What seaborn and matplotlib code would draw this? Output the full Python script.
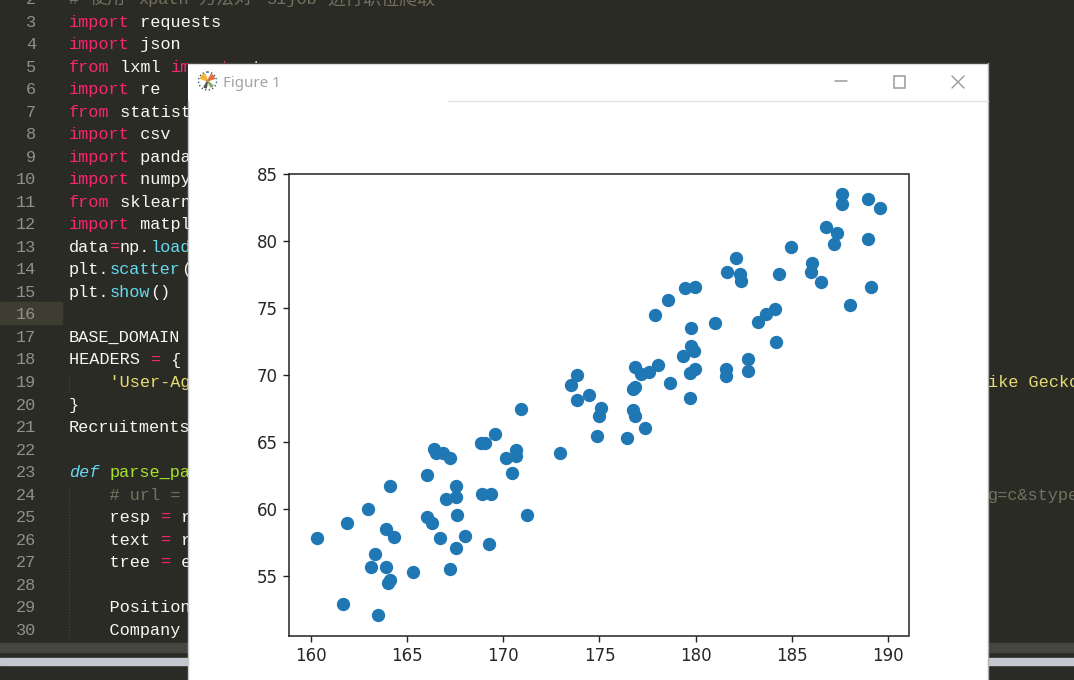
import matplotlib
matplotlib.use('Agg')
import matplotlib.pyplot as plt
from matplotlib.patches import Rectangle, Circle, Wedge
import pandas as pd
import seaborn as sns

# scatter values
heights = [160.33, 161.89, 161.68, 163.5, 162.98, 163.31, 163.1, 163.9, 163.9, 164.3,
           164.1, 164.1, 164.02, 165.32, 166.03, 166.03, 166.3, 166.7, 166.41, 166.5,
           166.88, 167.23, 167.02, 167.54, 167.54, 167.6, 167.23, 167.54, 167.99, 168.84,
           169.05, 169.57, 168.89, 169.36, 169.24, 170.14, 170.66, 170.66, 170.45, 170.92,
           171.23, 172.93, 173.52, 173.83, 173.83, 174.44, 174.95, 174.89, 175.1, 176.45,
           177.35, 176.76, 176.83, 176.76, 176.85, 176.83, 177.15, 177.56, 178.06, 178.65,
           177.87, 178.58, 179.43, 179.97, 179.76, 180.99, 179.76, 179.92, 179.36, 179.97,
           179.69, 179.69, 181.58, 181.58, 182.74, 182.74, 184.17, 183.26, 183.66, 184.11,
           181.65, 182.1, 182.31, 182.38, 184.32, 184.96, 186.0, 186.07, 186.52, 186.78,
           187.37, 187.18, 187.63, 187.63, 188.98, 189.57, 188.98, 189.12, 188.01]
weights = [57.8, 58.93, 52.86, 52.1, 59.96, 56.6, 55.65, 55.65, 58.46, 57.89,
           61.72, 54.66, 54.43, 55.3, 62.5, 59.41, 58.93, 57.8, 64.46, 64.14,
           64.14, 63.8, 60.7, 60.9, 61.72, 59.5, 55.48, 57.07, 57.99, 64.89,
           64.89, 65.56, 61.08, 61.08, 57.34, 63.8, 64.37, 63.96, 62.67, 67.43,
           59.5, 64.16, 69.22, 69.99, 68.1, 68.47, 66.95, 65.46, 67.5, 65.26,
           66.05, 67.37, 66.95, 68.92, 69.12, 70.61, 70.04, 70.24, 70.71, 69.41,
           74.45, 75.57, 76.49, 76.58, 73.5, 73.87, 72.15, 71.78, 71.43, 70.4,
           70.14, 68.27, 70.4, 69.94, 71.19, 70.31, 72.48, 73.97, 74.52, 74.92,
           77.7, 78.73, 77.53, 77.03, 77.53, 79.57, 77.7, 78.38, 76.96, 81.07,
           80.62, 79.75, 83.5, 82.76, 83.13, 82.48, 80.12, 76.58, 75.2]
x_ticks = [160, 165, 170, 175, 180, 185, 190]
y_ticks = [55, 60, 65, 70, 75, 80, 85]

# editor lines: (line number, [(text, colour), ...])
PINK = '#f92672'
WHITE = '#f8f8f2'
CYAN = '#66d9ef'
GREEN = '#a6e22e'
YELLOW = '#e6db74'
GREY = '#75715e'
code_lines = [
    (3, [('import', PINK), (' requests', WHITE)]),
    (4, [('import', PINK), (' json', WHITE)]),
    (5, [('from', PINK), (' lxml ', WHITE), ('import', PINK), (' etree', WHITE)]),
    (6, [('import', PINK), (' re', WHITE)]),
    (7, [('from', PINK), (' statistics', WHITE)]),
    (8, [('import', PINK), (' csv', WHITE)]),
    (9, [('import', PINK), (' pandas', WHITE)]),
    (10, [('import', PINK), (' numpy', WHITE)]),
    (11, [('from', PINK), (' sklearn', WHITE)]),
    (12, [('import', PINK), (' matplotlib', WHITE)]),
    (13, [('data', WHITE), ('=', PINK), ('np.', WHITE), ('load', CYAN)]),
    (14, [('plt.', WHITE), ('scatter', CYAN), ('(', WHITE)]),
    (15, [('plt.', WHITE), ('show', CYAN), ('()', WHITE)]),
    (16, []),
    (17, [('BASE_DOMAIN', WHITE)]),
    (18, [('HEADERS ', WHITE), ('=', PINK), (' {', WHITE)]),
    (19, [("    'User-Agent", YELLOW)]),
    (20, [('}', WHITE)]),
    (21, [('Recruitments', WHITE)]),
    (22, []),
    (23, [('def', CYAN), (' ', WHITE), ('parse_page', GREEN)]),
    (24, [('    # url =', GREY)]),
    (25, [('    resp ', WHITE), ('=', PINK), (' r', WHITE)]),
    (26, [('    text ', WHITE), ('=', PINK), (' r', WHITE)]),
    (27, [('    tree ', WHITE), ('=', PINK), (' e', WHITE)]),
    (28, []),
    (29, [('    Position', WHITE)]),
    (30, [('    Company', WHITE)]),
]
# comment on line 2, cut by the top of the screenshot: (x, text, is_cjk)
comment_parts = [
    (69, '#', False),
    (90, '使用', True),
    (138, 'xpath', False),
    (198, '方法对', True),
    (267, '51job', False),
    (327, '进行职位爬取', True),
]

W, H = 1074, 680
BG = '#2a2b25'
MONO = 'Liberation Mono'
CJK = ['Noto Sans CJK SC', 'DejaVu Sans']
CHAR_W = 10.2
LINE_H = 22.52

sns.set_theme(style='ticks', rc={'font.family': ['DejaVu Sans']})
fig = plt.figure(figsize=(W / 100, H / 100), dpi=100, facecolor=BG)

# whole figure overlay in pixel coordinates for the editor and the window chrome
bg = fig.add_axes([0, 0, 1, 1], zorder=0)
bg.set_xlim(0, W)
bg.set_ylim(H, 0)
bg.axis('off')


def line_y(n):
    # baseline of editor line n
    return 26.7 + (n - 3) * LINE_H


bg.add_patch(Rectangle((0, 302), 62, 22, color='#3e3d32', zorder=1))
bg.text(36, line_y(2), '2', color='#8f908a', family=MONO, size=12.2, ha='right', va='baseline', zorder=2)
for x, text, is_cjk in comment_parts:
    if is_cjk:
        bg.text(x, line_y(2), text, color=GREY, family=CJK, size=13, va='baseline', zorder=2)
    else:
        bg.text(x, line_y(2), text, color=GREY, family=MONO, size=12.2, va='baseline', zorder=2)

for num, parts in code_lines:
    y = line_y(num)
    bg.text(36, y, str(num), color='#8f908a', family=MONO, size=12.2, ha='right', va='baseline', zorder=2)
    col = 0
    for text, colour in parts:
        style = 'italic' if text == 'def' else 'normal'
        bg.text(69 + col * CHAR_W, y, text, color=colour, family=MONO, size=12.2,
                style=style, va='baseline', zorder=2)
        col += len(text)

# the ends of the two long lines, to the right of the window
bg.text(988, line_y(19), 'ike Gecko', color=YELLOW, family=MONO, size=12.2, va='baseline', zorder=2)
bg.text(988, line_y(24), 'g=c&stype', color=GREY, family=MONO, size=12.2, va='baseline', zorder=2)

# indent guides
bg.plot([69, 69], [373, 392], color='#47483f', lw=0.8, ls=':', zorder=1)
bg.plot([69, 69], [485, 638], color='#47483f', lw=0.8, ls=':', zorder=1)

# horizontal scroll bars
bg.add_patch(Rectangle((0, 643), W, 9, color='#45463f', zorder=1))
bg.add_patch(Rectangle((0, 657.5), W, 7.5, color='#c5c7d0', zorder=1))

# figure window
bg.add_patch(Rectangle((188, 63), 800, H - 63, facecolor='white', edgecolor='none', zorder=5))
bg.plot([188, 988], [62.5, 62.5], color='#4a4a46', lw=1, zorder=6)
bg.plot([988, 988], [63, H], color='#b0b0b0', lw=1, zorder=6)
bg.plot([188, 188], [101, H], color='#c8c8c8', lw=1, zorder=6)
bg.plot([448, 988], [101, 101], color='#e2e2e2', lw=1, zorder=6)
bg.text(223, 87, 'Figure 1', color='#a3a3a3', family='Noto Sans', size=10.9, va='baseline', zorder=6)

# title bar icon
bg.add_patch(Circle((207.5, 81), 9, facecolor='white', edgecolor='#2b5d7d', lw=1, ls=':', zorder=6))
bg.add_patch(Wedge((207.5, 81), 7.5, 200, 250, color='#f5b43c', zorder=7))
bg.add_patch(Wedge((207.5, 81), 7.5, 300, 340, color='#e0703c', zorder=7))
bg.add_patch(Wedge((207.5, 81), 7, 100, 120, color='#555555', zorder=7))
bg.add_patch(Wedge((207.5, 81), 7, 40, 60, color='#88a860', zorder=7))

# window buttons
bg.plot([835, 847], [81, 81], color='#9a9a9a', lw=1.1, zorder=6)
bg.add_patch(Rectangle((893.5, 76), 11, 11.5, fill=False, edgecolor='#9a9a9a', lw=1.1, zorder=6))
bg.plot([952, 964], [76, 88], color='#9a9a9a', lw=1, zorder=6)
bg.plot([952, 964], [88, 76], color='#9a9a9a', lw=1, zorder=6)

# the actual plot
left, right, top, bottom = 288.7, 908.5, 174, 635.7
ax = fig.add_axes([left / W, 1 - bottom / H, (right - left) / W, (bottom - top) / H], zorder=2)
ax.set_facecolor('white')
df = pd.DataFrame({'height': heights, 'weight': weights})
sns.scatterplot(data=df, x='height', y='weight', color='#1f77b4', s=92, linewidth=0, ax=ax)
ax.set_xlim(158.84, 191.07)
ax.set_ylim(50.52, 85)
ax.set_xticks(x_ticks)
ax.set_yticks(y_ticks)
ax.set_xlabel('')
ax.set_ylabel('')
ax.tick_params(labelsize=12, length=4.4, width=1, color='#222222', labelcolor='#262626', pad=3.5)
for spine in ax.spines.values():
    spine.set_visible(True)
    spine.set_color('#222222')
    spine.set_linewidth(1.1)

fig.savefig('out.png', dpi=100, facecolor=BG)
